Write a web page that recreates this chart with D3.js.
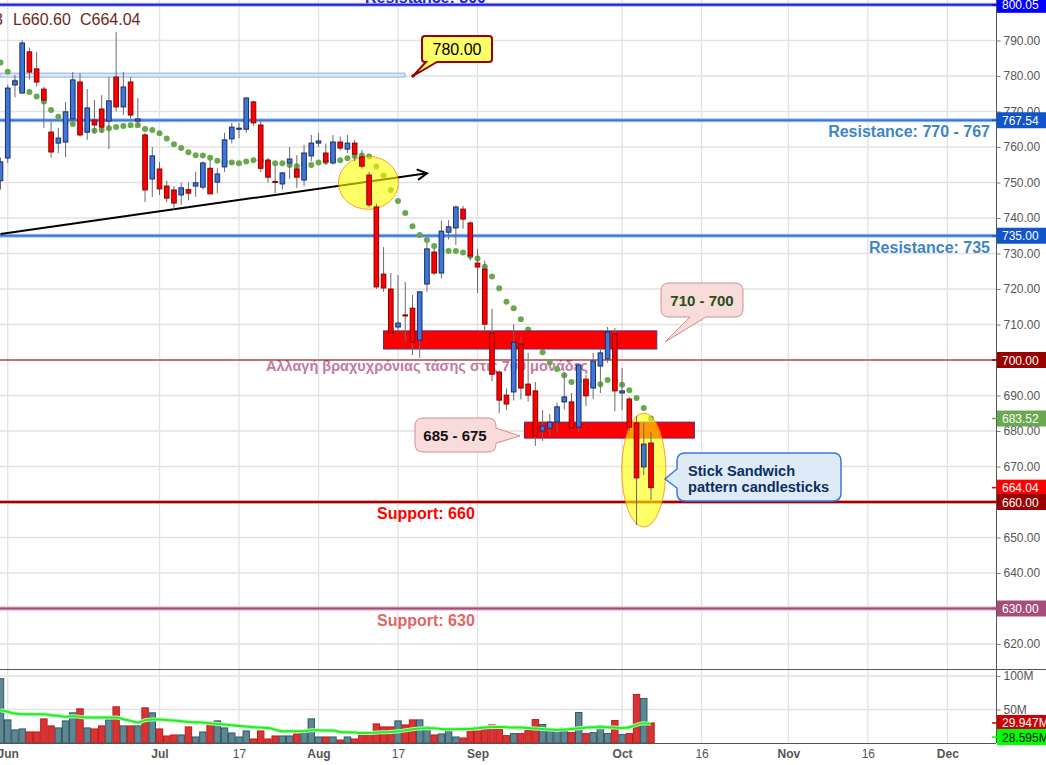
<!DOCTYPE html>
<html><head><meta charset="utf-8">
<script src="https://cdn.jsdelivr.net/npm/d3@7"></script>
<style>body{margin:0;background:#fff;overflow:hidden}svg{display:block;font-family:"Liberation Sans",Arial,sans-serif}</style>
</head><body><svg id="c" width="1046" height="765"></svg>
<script>
// ---- data ----
const opens  = [750.5,756.9,777.5,775.2,786.8,782,776.3,764.2,761.1,761.4,767.9,778.3,764.2,767.6,770.7,767.3,779.7,771.3,778.3,767.3,763.4,751,753.8,749,747.9,746.5,748,749,748.7,754,750.1,754.4,762.3,765,765,772.7,766.2,756.3,750.3,749.6,755.5,753.8,750.7,757.5,761.1,758.3,755.5,761.4,759.4,761.1,757.2,752.1,743.1,724.2,720,709.3,712.7,714.6,705.6,721.4,730.4,724.5,736,737.2,742.5,738.6,727.3,725.6,707.6,696.6,690.1,691,704.5,693.2,691.3,680,680.8,682.5,688.2,688.2,681.1,694.6,692.1,698.3,700.3,707.3,690.7,689,682.3,669.9,676.6];
const highs  = [757,777.5,780.3,790.1,788,786.8,777,767,765.4,772.7,781.1,780.8,776.3,773.2,774.6,779.7,792.4,781.1,779.7,773.8,764,760,755.8,750.5,749,750,750,753,756,756.3,754,764,766.8,766.8,774,773,767.6,757,755,753,760,757.7,760.6,763.4,764,761,763.4,763,763.4,762,759.2,753,744,731.8,724.5,723.9,722,718.3,719.5,733,731.5,739.2,739.4,743.5,743.4,739,731.3,728,714.4,697,692,710.1,706.5,702,693.8,685.9,684.8,688,696.6,690.7,699,695.8,702,703.4,709.3,709,697.7,689.6,684.3,682.3,679.7];
const lows   = [748,755.5,774,775,779,777,765.4,757,758.3,757.2,767,763,762,763.9,763.9,759.4,770,769,768,766,744.5,745.9,746.5,744.5,742.3,743.7,745,746,748,746.8,747,753,761,762.5,764,766,753,750,747,748,751,748.5,749,756,760,755,755,759,758.3,756,754,743,720,719.2,707,708,705,701.4,700.6,719.2,724,723,734,732.4,737,728,718.9,708,694,685,686,688.6,688.9,688.3,675.8,677.2,678.6,679.5,686,680.3,679.7,687,689,690.7,699.2,685.6,685.9,680,653.5,667.6,660.6];
const closes = [755.8,776.6,778.6,789.3,781.1,778.3,773.2,758.6,762.5,769.9,778.9,763.4,771,766.2,765.6,773,771.3,776.9,769,767.9,747.9,757.5,748.2,745.6,744.2,748.5,747,749.9,755.5,746.8,752.4,762,765.6,765.3,773.8,766.8,754,751.5,750.1,752.7,756.6,751.5,758.3,761.1,761.7,755.8,761.4,759.7,761.1,758,754.6,743.7,720.6,720.3,707.6,710.4,712.6,705,719.2,731.3,724.5,736.3,737.5,743.1,739.7,729.3,726.2,710.1,696,688.7,687.6,705,692.1,690.1,678.6,681.4,682.5,686.8,689.6,680.8,698.6,689.9,699.7,702,707.9,691.3,691.3,681.1,666.8,676.3,664.04];
const volumes = [96,34.5,19.5,21,16.5,16.5,36,25.5,22.5,33,45,51,22.5,21,25.5,34.5,54,25.5,25.5,25.5,52.5,45,21,10.5,12,12,24,9,16.5,30,33,22.5,15,9,18,6,18,6,10.5,10.5,10.5,13.5,15,36,9,9,9,4.5,9,6,13.5,13.5,28.5,24,24,33,27,34.5,34.5,24,12,13.5,19.5,9,7.5,22.5,18,21,27,25.5,11,14,14,18.5,35,27.5,20,18.5,17,15.5,45.5,14,15.5,26,14,33.5,12.5,14,72.5,66.5,29.947];
const priceMA = [783.8,781.2,778.2,776.5,775.5,774.2,772.8,770.4,768.5,767.3,766.5,765,764.8,764.6,764.8,765.3,765.6,765.9,766.1,766.1,765.1,764.8,763.9,762.4,760.8,759.7,758.5,757.7,757.6,757,756.1,755.7,755.6,755.4,755.9,756.3,756.3,755.7,755.4,755.4,754.9,754.6,754.9,754.9,755.6,755.9,756.5,756.3,756.8,757.5,757.6,757.3,754.5,752,747.9,744.8,741.4,737.7,735.2,733.8,732.1,730.7,730.7,730.7,730.3,729.3,728.6,726.3,723.5,720.2,716.4,714.6,711.5,708.6,705.6,702.2,699.3,697.5,695.7,693.8,694.1,693.5,693.2,693.2,694.4,694,693,691.5,689.3,686.5,683.52];
const volumeMA = [49,46.5,44,43,43,43,43,41.5,40.5,39,40,39,38,38,38,38,38,35.5,33,30.5,34,35,35,34.5,33.5,32.5,31.5,31,30.5,29.5,28.5,27.5,26.5,25.5,24.5,23.5,23,22.5,20,17.5,17.5,17.5,17.5,19,19,18.5,18.5,16.5,16,15.5,15,15,15.5,16,16.5,17.5,19,20.5,21.5,22,22,21,20.5,20.5,21,21,22,23,24,24,23.5,23,23,22.5,21.5,21,20,19.5,20,21,22,23,23.5,23.5,23.5,23,22.5,23.5,27,29.5,28.595];
const priceTicks = [620,630,640,650,660,670,680,690,700,710,720,730,740,750,760,770,780,790];
const volTicks = [50,100];
const dateTickIdx = [1,22,33,44,55,66,86,97,109,120,131];
const dateTickLabels = ["Jun","Jul","17","Aug","17","Sep","Oct","16","Nov","16","Dec"];
const levelValues = [800.05,767.54,735,700,660,630];
const zoneLow = [703.1,678];
const zoneHigh = [708.2,682.5];
const zoneStart = [53,72.5];
const zoneEnd = [90.8,96];

// ---- layout ----
const svg = d3.select("#c");
const plotR = 996, priceBottom = 668;
const x = d3.scaleLinear().domain([0,90]).range([0.5,651]);
const y = d3.scaleLinear().domain([620,800]).range([644,5]);
const yv = d3.scaleLinear().domain([0,100]).range([743,676]);

svg.append("defs").append("clipPath").attr("id","pc").append("rect").attr("x",0).attr("y",0).attr("width",plotR).attr("height",priceBottom);
svg.append("defs").append("clipPath").attr("id","vc").append("rect").attr("x",0).attr("y",670).attr("width",plotR).attr("height",73);

// grid
const grid = svg.append("g").attr("stroke","#e2e2e2").attr("stroke-width",1.3);
grid.selectAll(".h").data(priceTicks).join("line").attr("x1",0).attr("x2",plotR).attr("y1",d=>y(d)).attr("y2",d=>y(d));
grid.selectAll(".hv").data(volTicks).join("line").attr("x1",0).attr("x2",plotR).attr("y1",d=>yv(d)).attr("y2",d=>yv(d));
grid.selectAll(".v").data(dateTickIdx).join("line").attr("x1",d=>x(d)).attr("x2",d=>x(d)).attr("y1",0).attr("y2",743);

const P = svg.append("g").attr("clip-path","url(#pc)");

// greek text
P.append("text").attr("x",266).attr("y",y(697)).attr("font-size",14.5).attr("font-weight","bold").attr("fill","#c27ba0")
 .text("Αλλαγή βραχυχρόνιας τάσης στις 700 μονάδες");

// level lines
const lvlStyle = [
 {c:"#1f1fe0",w:2,halo:"#a8b4f4"},
 {c:"#3c78d8",w:2,halo:"#a4c2f4"},
 {c:"#3c78d8",w:2,halo:"#a4c2f4"},
 {c:"#990000",w:1,halo:null},
 {c:"#a30000",w:2,halo:"#e8a0a0"},
 {c:"#a64d79",w:2,halo:"#dcb0c8"}];
levelValues.forEach((v,i)=>{
  const s=lvlStyle[i];
  if(s.halo) P.append("line").attr("x1",0).attr("x2",plotR).attr("y1",y(v)).attr("y2",y(v)).attr("stroke",s.halo).attr("stroke-width",4);
  P.append("line").attr("x1",0).attr("x2",plotR).attr("y1",y(v)).attr("y2",y(v)).attr("stroke",s.c).attr("stroke-width",s.w);
});

// level texts
P.append("text").attr("x",365).attr("y",3).attr("font-size",16).attr("font-weight","bold").attr("fill","#2020e0").text("Resistance: 800");
P.append("text").attr("x",990).attr("y",137).attr("text-anchor","end").attr("font-size",16).attr("font-weight","bold").attr("fill","#3d85c6").text("Resistance: 770 - 767");
P.append("text").attr("x",990).attr("y",253).attr("text-anchor","end").attr("font-size",16).attr("font-weight","bold").attr("fill","#3d85c6").text("Resistance: 735");
P.append("text").attr("x",377).attr("y",519).attr("font-size",16).attr("font-weight","bold").attr("fill","#ff0000").text("Support: 660");
P.append("text").attr("x",377).attr("y",626).attr("font-size",16).attr("font-weight","bold").attr("fill","#e06666").text("Support: 630");

// 780 band
P.append("rect").attr("x",0).attr("y",y(780.8)).attr("width",405).attr("height",y(779.7)-y(780.8)).attr("fill","#dde8fa").attr("stroke","#8fb0e6").attr("stroke-width",1);

// trendline with arrow
const tl = [[0,735.5],[59,752.6]];
const x1=x(tl[0][0]), y1=y(tl[0][1]), x2=x(tl[1][0]), y2=y(tl[1][1]);
P.append("line").attr("x1",x1).attr("y1",y1).attr("x2",x2).attr("y2",y2).attr("stroke","#000").attr("stroke-width",2);
const ang=Math.atan2(y2-y1,x2-x1), L=11;
P.append("path").attr("d",`M${x2-L*Math.cos(ang-0.5)},${y2-L*Math.sin(ang-0.5)}L${x2},${y2}L${x2-L*Math.cos(ang+0.5)},${y2-L*Math.sin(ang+0.5)}`)
 .attr("fill","none").attr("stroke","#000").attr("stroke-width",2);

// price MA dots
P.selectAll(".dot").data(priceMA).join("circle").attr("cx",(d,i)=>x(i)).attr("cy",d=>y(d)).attr("r",3).attr("fill","#6aa84f");

// zones
zoneLow.forEach((v,i)=>{
  P.append("rect").attr("x",x(zoneStart[i])).attr("y",y(zoneHigh[i])).attr("width",x(zoneEnd[i])-x(zoneStart[i])).attr("height",y(zoneLow[i])-y(zoneHigh[i]))
   .attr("fill","#ff0000").attr("stroke","#5b2a6b").attr("stroke-width",1);
});

// ellipses
P.append("ellipse").attr("cx",x(50.9)).attr("cy",y(749.9)).attr("rx",30).attr("ry",26.5).attr("fill","#ffff00").attr("fill-opacity",0.6).attr("stroke","#ff7000").attr("stroke-opacity",0.7);
P.append("ellipse").attr("cx",x(89)).attr("cy",y(669)).attr("rx",22).attr("ry",57).attr("fill","#ffff00").attr("fill-opacity",0.6).attr("stroke","#ff7000").attr("stroke-opacity",0.7);

// candles
const idx = d3.range(opens.length);
P.selectAll(".wick").data(idx).join("line").attr("x1",i=>x(i)).attr("x2",i=>x(i)).attr("y1",i=>y(highs[i])).attr("y2",i=>y(lows[i])).attr("stroke","#6a6a6a").attr("stroke-width",1);
P.selectAll(".body").data(idx).join("rect")
 .attr("x",i=>x(i)-2.3).attr("width",4.6)
 .attr("y",i=>y(Math.max(opens[i],closes[i])))
 .attr("height",i=>Math.max(1,Math.abs(y(opens[i])-y(closes[i]))))
 .attr("fill",i=>closes[i]>=opens[i]?"#3d78d8":"#ff0000")
 .attr("stroke",i=>closes[i]>=opens[i]?"#1c2a6b":"#8b0000").attr("stroke-width",1);

// callouts
function callout(bx,by,w,h,r,side,b1,b2,tx,ty){
  let p=`M${bx+r},${by}H${bx+w-r}Q${bx+w},${by} ${bx+w},${by+r}`;
  if(side==="right") p+=`V${b1}L${tx},${ty}L${bx+w},${b2}`;
  p+=`V${by+h-r}Q${bx+w},${by+h} ${bx+w-r},${by+h}`;
  if(side==="bottom") p+=`H${b2}L${tx},${ty}L${b1},${by+h}`;
  p+=`H${bx+r}Q${bx},${by+h} ${bx},${by+h-r}`;
  if(side==="left") p+=`V${b2}L${tx},${ty}L${bx},${b1}`;
  p+=`V${by+r}Q${bx},${by} ${bx+r},${by}Z`;
  return p;
}
const C = svg.append("g");
C.append("path").attr("d",callout(422,36,70,26,3,"bottom",426,437,413,76)).attr("fill","#ffff66").attr("stroke","#990000").attr("stroke-width",2);
C.append("circle").attr("cx",413).attr("cy",76).attr("r",1.8).attr("fill","#990000");
C.append("text").attr("x",457).attr("y",55).attr("text-anchor","middle").attr("font-size",16).attr("fill","#000").text("780.00");

C.append("path").attr("d",callout(661,283,82,34,8,"bottom",690,706,665,342)).attr("fill","#f8dcdc").attr("stroke","#d48e8e").attr("stroke-width",1);
C.append("text").attr("x",702).attr("y",306).attr("text-anchor","middle").attr("font-size",15).attr("font-weight","bold").attr("fill","#274e13").text("710 - 700");

C.append("path").attr("d",callout(415,418,81,34,8,"right",428,443,520,436)).attr("fill","#f8dcdc").attr("stroke","#d48e8e").attr("stroke-width",1);
C.append("text").attr("x",455).attr("y",441).attr("text-anchor","middle").attr("font-size",15).attr("font-weight","bold").attr("fill","#111").text("685 - 675");

C.append("path").attr("d",callout(677,453,164,48,8,"left",469,488,665,479)).attr("fill","#deebf7").attr("stroke","#3c78d8").attr("stroke-width",1.5);
C.append("text").attr("x",688).attr("y",476).attr("font-size",14.6).attr("font-weight","bold").attr("fill","#0b3060").text("Stick Sandwich");
C.append("text").attr("x",688).attr("y",492).attr("font-size",14.6).attr("font-weight","bold").attr("fill","#0b3060").text("pattern candlesticks");

// header
const hdr = svg.append("g").attr("font-size",16).attr("fill","#6b2a20");
hdr.append("text").attr("x",-6).attr("y",25).text("3");
hdr.append("text").attr("x",13).attr("y",25).text("L660.60");
hdr.append("text").attr("x",80).attr("y",25).text("C664.04");

// volume panel
const V = svg.append("g").attr("clip-path","url(#vc)");
V.selectAll(".vb").data(idx).join("rect")
 .attr("x",i=>x(i)-3.2).attr("width",6.4)
 .attr("y",i=>yv(volumes[i])).attr("height",i=>yv(0)-yv(volumes[i]))
 .attr("fill",i=>closes[i]>=opens[i]?"#5e8793":"#d83434")
 .attr("stroke",i=>closes[i]>=opens[i]?"#2d5866":"#c41a1a").attr("stroke-width",1);
const vline = d3.line().x((d,i)=>x(i)).y(d=>yv(d)).curve(d3.curveMonotoneX);
V.append("path").attr("d",vline(volumeMA)).attr("fill","none").attr("stroke","#b8f5b8").attr("stroke-width",4);
V.append("path").attr("d",vline(volumeMA)).attr("fill","none").attr("stroke","#22ee22").attr("stroke-width",2);

// frame lines
svg.append("line").attr("x1",0).attr("x2",1046).attr("y1",669.5).attr("y2",669.5).attr("stroke","#555");
svg.append("line").attr("x1",0).attr("x2",plotR).attr("y1",743.5).attr("y2",743.5).attr("stroke","#555");
svg.append("line").attr("x1",plotR+.5).attr("x2",plotR+.5).attr("y1",0).attr("y2",743).attr("stroke","#555");

// right price axis
const ay = svg.append("g").attr("transform",`translate(${plotR+.5},0)`).call(d3.axisRight(y).tickValues(priceTicks).tickFormat(d3.format(".2f")).tickSize(4).tickPadding(3));
ay.select(".domain").remove();
ay.selectAll("text").attr("font-size",12).attr("fill","#555").attr("font-family","Liberation Sans, Arial, sans-serif");
ay.selectAll("line").attr("stroke","#777");
const av = svg.append("g").attr("transform",`translate(${plotR+.5},0)`).call(d3.axisRight(yv).tickValues(volTicks).tickFormat(d=>d+"M").tickSize(4).tickPadding(3));
av.select(".domain").remove();
av.selectAll("text").attr("font-size",12).attr("fill","#555").attr("font-family","Liberation Sans, Arial, sans-serif");
av.selectAll("line").attr("stroke","#777");

// bottom date axis
const ax = svg.append("g").attr("transform","translate(0,744)").call(d3.axisBottom(x).tickValues(dateTickIdx).tickFormat((d,i)=>dateTickLabels[i]).tickSize(0).tickPadding(5));
ax.select(".domain").remove();
ax.selectAll("text").attr("font-size",12).attr("fill","#555").attr("font-family","Liberation Sans, Arial, sans-serif")
  .attr("font-weight",(d,i)=>isNaN(+dateTickLabels[i])?"bold":"normal");

// highlighted value labels
const hl = [
 [y(800.05),"800.05","#0000ff","#fff"],
 [y(767.54),"767.54","#1155cc","#fff"],
 [y(735),"735.00","#1155cc","#fff"],
 [y(700),"700.00","#990000","#fff"],
 [y(683.52),"683.52","#6aa84f","#fff"],
 [y(664.04),"664.04","#ff0000","#fff"],
 [y(660),"660.00","#990000","#fff"],
 [y(630),"630.00","#a64d79","#fff"],
 [yv(29.947),"29.947M","#cc0000","#fff"],
 [737,"28.595M","#00ff00","#000"]];
hl.forEach(([yy,t,bg,fg])=>{
  svg.append("rect").attr("x",997).attr("y",yy-8).attr("width",49).attr("height",16).attr("fill",bg);
  svg.append("line").attr("x1",992).attr("x2",1000).attr("y1",yy).attr("y2",yy).attr("stroke",bg).attr("stroke-width",1.5);
  svg.append("text").attr("x",1002).attr("y",yy+4.5).attr("font-size",12).attr("fill",fg).text(t);
});
</script></body></html>
